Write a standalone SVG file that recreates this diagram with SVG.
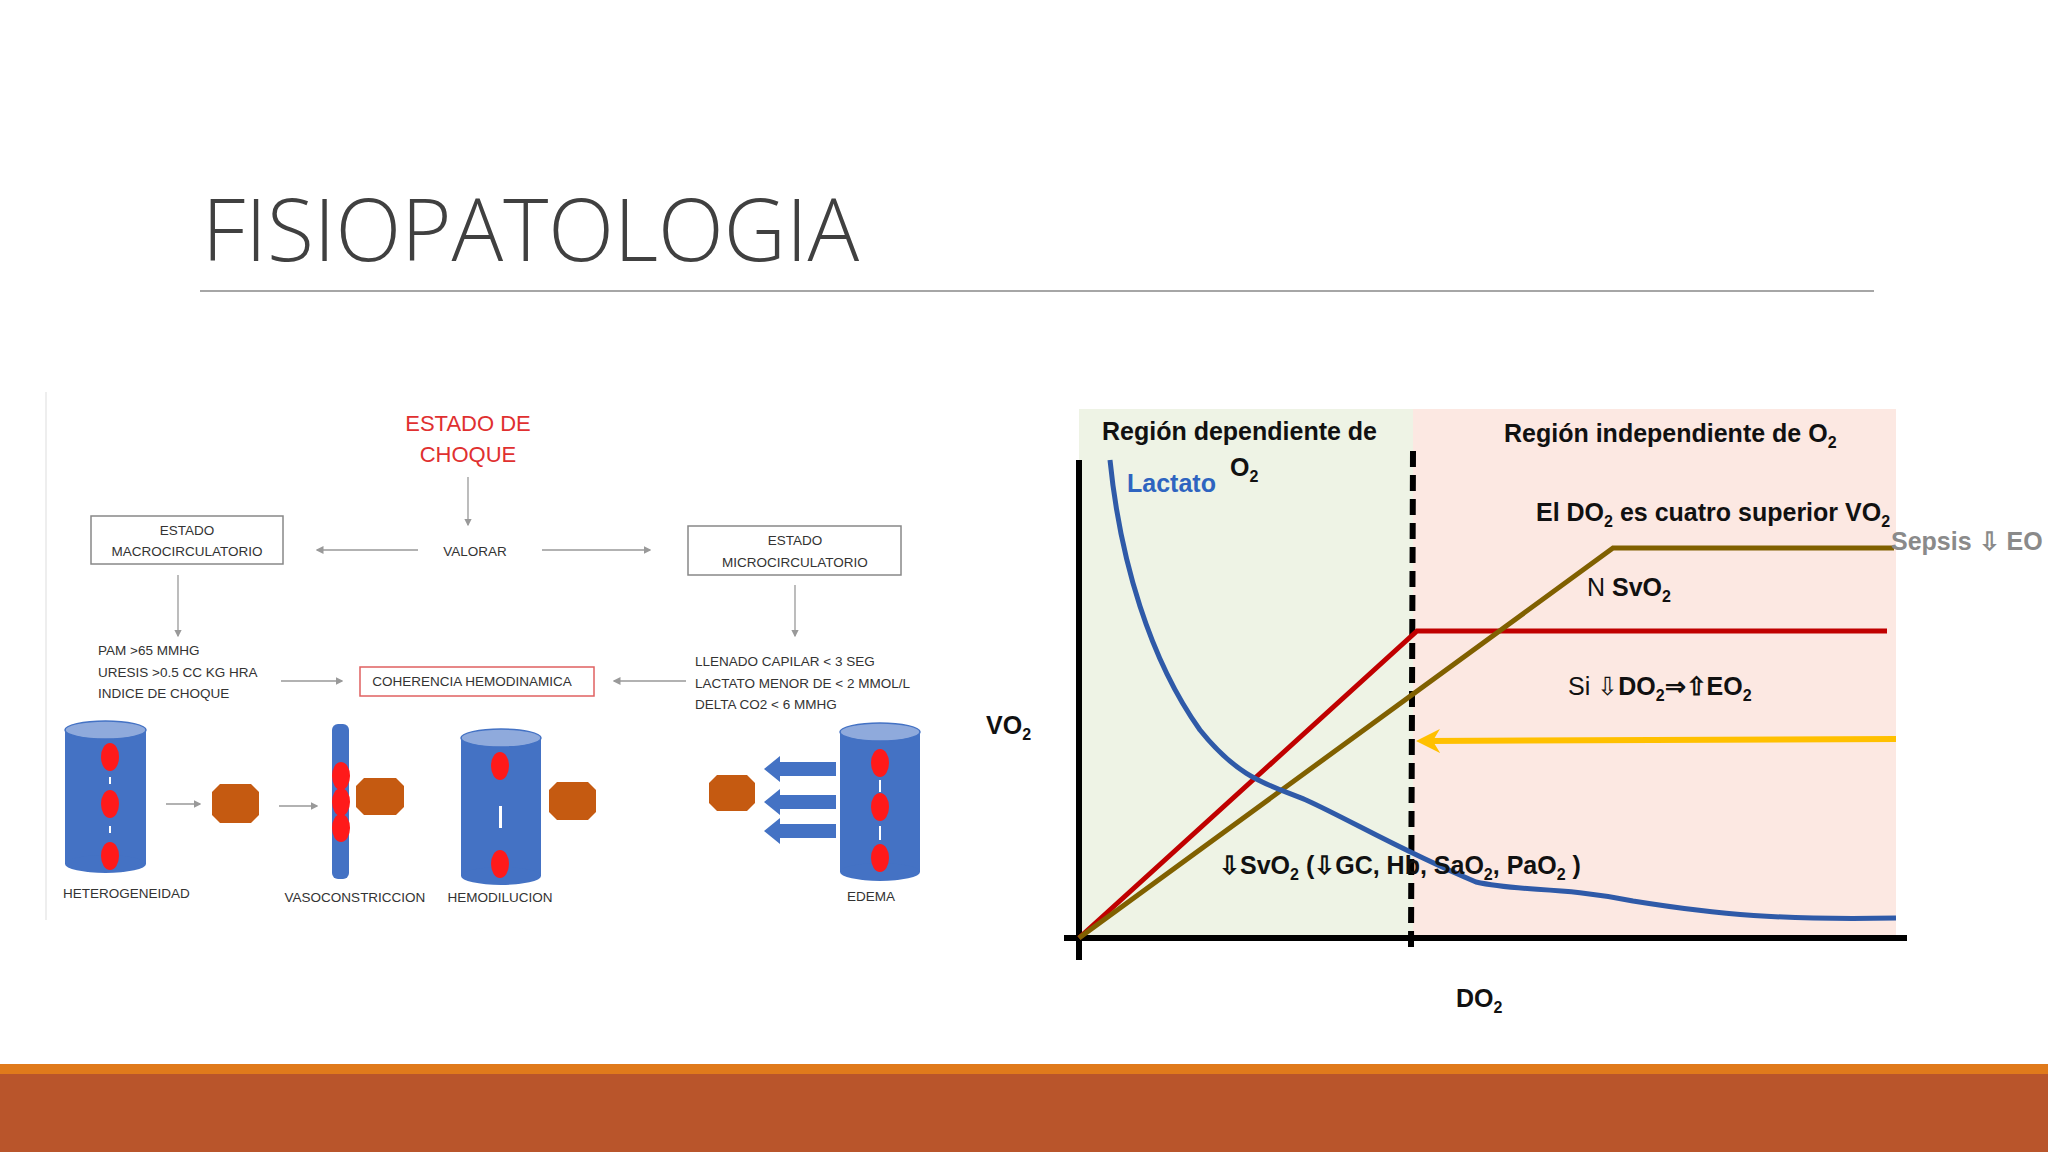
<svg xmlns="http://www.w3.org/2000/svg" width="2048" height="1152" viewBox="0 0 2048 1152">
<defs>
<style>
.t{font-family:"Liberation Sans Narrow","Liberation Sans",Arial,sans-serif;fill:#333}
.s{font-size:13.5px}
.b{font-family:"Liberation Sans",Arial,sans-serif;font-weight:bold;font-size:25px;fill:#111}
.ln{stroke:#999;stroke-width:1.3;fill:none}
.cyl{fill:#4472C4}
.top{fill:#8FAADC;stroke:#4472C4;stroke-width:1.5}
.rbc{fill:#FF1A1A}
.cell{fill:#C55A11}
</style>
<marker id="ar" markerWidth="6" markerHeight="6" refX="5" refY="3" orient="auto"><path d="M0,0 L6,3 L0,6z" fill="#999"/></marker>
<marker id="ay" markerWidth="4" markerHeight="4" refX="2" refY="2" orient="auto"><path d="M0,0 L4,2 L0,4 L1.2,2z" fill="#FFC000"/></marker>
</defs>
<rect width="2048" height="1152" fill="#fff"/>
<text x="202" y="261" font-family="'Open Sans','Liberation Sans',sans-serif" font-weight="300" font-size="86" fill="#404040">FISIOPATOLOGIA</text>
<line x1="200" y1="291" x2="1874" y2="291" stroke="#a6a6a6" stroke-width="2"/>
<rect x="0" y="1064" width="2048" height="10" fill="#E07A1B"/>
<rect x="0" y="1074" width="2048" height="78" fill="#B9552B"/>

<!-- left diagram -->
<line x1="46" y1="392" x2="46" y2="920" stroke="#eee" stroke-width="2"/>
<g id="choque"><text class="t" x="468" y="431" text-anchor="middle" font-size="22" style="fill:#E03030">ESTADO DE</text><text class="t" x="468" y="462" text-anchor="middle" font-size="22" style="fill:#E03030">CHOQUE</text></g>
<g id="macro"><rect x="91" y="516" width="192" height="48" fill="#fff" stroke="#888" stroke-width="1.5"/><text class="t s" x="187" y="535" text-anchor="middle">ESTADO</text><text class="t s" x="187" y="556" text-anchor="middle">MACROCIRCULATORIO</text></g>
<g id="valorar"><text class="t s" x="475" y="556" text-anchor="middle">VALORAR</text></g>
<g id="micro"><rect x="688" y="526" width="213" height="49" fill="#fff" stroke="#888" stroke-width="1.5"/><text class="t s" x="795" y="545" text-anchor="middle">ESTADO</text><text class="t s" x="795" y="567" text-anchor="middle">MICROCIRCULATORIO</text></g>
<g id="pam"><text class="t s" x="98" y="655">PAM &gt;65 MMHG</text><text class="t s" x="98" y="677">URESIS &gt;0.5 CC KG HRA</text><text class="t s" x="98" y="698">INDICE DE CHOQUE</text></g>
<g id="coherencia"><rect x="360" y="667" width="234" height="29" fill="#fff" stroke="#E06060" stroke-width="1.5"/><text class="t s" x="472" y="686" text-anchor="middle">COHERENCIA HEMODINAMICA</text></g>
<g id="llenado"><text class="t s" x="695" y="666">LLENADO CAPILAR &lt; 3 SEG</text><text class="t s" x="695" y="688">LACTATO MENOR DE &lt; 2 MMOL/L</text><text class="t s" x="695" y="709">DELTA CO2 &lt; 6 MMHG</text></g>

<g id="connectors">
<line class="ln" x1="468" y1="477" x2="468" y2="525" marker-end="url(#ar)"/>
<line class="ln" x1="418" y1="550" x2="317" y2="550" marker-end="url(#ar)"/>
<line class="ln" x1="542" y1="550" x2="650" y2="550" marker-end="url(#ar)"/>
<line class="ln" x1="178" y1="575" x2="178" y2="636" marker-end="url(#ar)"/>
<line class="ln" x1="795" y1="585" x2="795" y2="636" marker-end="url(#ar)"/>
<line class="ln" x1="281" y1="681" x2="342" y2="681" marker-end="url(#ar)"/>
<line class="ln" x1="686" y1="681" x2="614" y2="681" marker-end="url(#ar)"/>
<line class="ln" x1="166" y1="804" x2="200" y2="804" marker-end="url(#ar)"/>
<line class="ln" x1="279" y1="806" x2="317" y2="806" marker-end="url(#ar)"/>
</g>

<g id="heterogeneidad">
<rect class="cyl" x="65" y="730" width="81" height="134"/><ellipse class="cyl" cx="105.5" cy="864" rx="40.5" ry="9"/><ellipse class="top" cx="105.5" cy="730" rx="40.5" ry="9"/>
<ellipse class="rbc" cx="110" cy="757" rx="9" ry="14"/><ellipse class="rbc" cx="110" cy="804" rx="9" ry="14"/><ellipse class="rbc" cx="110" cy="856" rx="9" ry="14"/>
<rect x="109" y="777" width="2" height="7" fill="#fff"/><rect x="109" y="826" width="2" height="7" fill="#fff"/>
<text class="t s" x="63" y="898">HETEROGENEIDAD</text></g>
<g id="cell1"><polygon class="cell" points="220,784 251,784 259,792 259,815 251,823 220,823 212,815 212,792"/></g>
<g id="vasoconstriccion">
<rect class="cyl" x="332" y="724" width="17" height="155" rx="6"/>
<ellipse class="rbc" cx="341" cy="776" rx="9" ry="14"/><ellipse class="rbc" cx="341" cy="802" rx="9" ry="14"/><ellipse class="rbc" cx="341" cy="828" rx="9" ry="14"/>
<text class="t s" x="355" y="902" text-anchor="middle">VASOCONSTRICCION</text></g>
<g id="cell2"><polygon class="cell" points="364,778 396,778 404,786 404,807 396,815 364,815 356,807 356,786"/></g>
<g id="hemodilucion">
<rect class="cyl" x="461" y="738" width="80" height="138"/><ellipse class="cyl" cx="501" cy="876" rx="40" ry="9"/><ellipse class="top" cx="501" cy="738" rx="40" ry="9"/>
<ellipse class="rbc" cx="500" cy="766" rx="9" ry="14"/><ellipse class="rbc" cx="500" cy="864" rx="9" ry="14"/>
<rect x="499" y="806" width="3" height="22" fill="#fff"/>
<text class="t s" x="500" y="902" text-anchor="middle">HEMODILUCION</text></g>
<g id="cell3"><polygon class="cell" points="557,782 588,782 596,790 596,812 588,820 557,820 549,812 549,790"/></g>
<g id="cell4"><polygon class="cell" points="717,775 747,775 755,783 755,803 747,811 717,811 709,803 709,783"/></g>
<g id="edema">
<rect class="cyl" x="840" y="732" width="80" height="140"/><ellipse class="cyl" cx="880" cy="872" rx="40" ry="9"/><ellipse class="top" cx="880" cy="732" rx="40" ry="9"/>
<ellipse class="rbc" cx="880" cy="763" rx="9" ry="14"/><ellipse class="rbc" cx="880" cy="807" rx="9" ry="14"/><ellipse class="rbc" cx="880" cy="858" rx="9" ry="14"/>
<rect x="879" y="780" width="2" height="12" fill="#fff"/><rect x="879" y="826" width="2" height="14" fill="#fff"/>
<polygon fill="#4472C4" points="836,762 780,762 780,756 764,769 780,782 780,776 836,776"/>
<polygon fill="#4472C4" points="836,795 780,795 780,789 764,802 780,815 780,809 836,809"/>
<polygon fill="#4472C4" points="836,824 780,824 780,818 764,831 780,844 780,838 836,838"/>
<text class="t s" x="871" y="901" text-anchor="middle">EDEMA</text></g>

<!-- right chart -->
<g id="chart">
<rect x="1079" y="409" width="334" height="529" fill="#EEF3E5"/>
<rect x="1413" y="409" width="483" height="529" fill="#FCE8E2"/>
<line x1="1079" y1="460" x2="1079" y2="960" stroke="#000" stroke-width="6"/>
<line x1="1064" y1="938" x2="1907" y2="938" stroke="#000" stroke-width="6"/>
<line x1="1413" y1="451" x2="1411" y2="947" stroke="#000" stroke-width="6" stroke-dasharray="16,8"/>
<polyline points="1079,938 1417,631 1887,631" fill="none" stroke="#C00000" stroke-width="5"/>
<polyline points="1079,938 1613,548 1894,548" fill="none" stroke="#806000" stroke-width="5"/>
<line x1="1896" y1="739" x2="1428" y2="741" stroke="#FFC000" stroke-width="6" marker-end="url(#ay)"/>
<path d="M1110,460 C1120,560 1150,660 1200,730 C1240,780 1270,785 1306,800 C1350,820 1400,850 1476,882 C1520,892 1560,886 1633,901 C1720,915 1780,920 1896,918" fill="none" stroke="#2F5AA8" stroke-width="5"/>
<text class="b" x="1102" y="440">Región dependiente de</text>
<text class="b" x="1230" y="476">O<tspan font-size="16" dy="6">2</tspan></text>
<text class="b" x="1127" y="492" style="fill:#2E64C0">Lactato</text>
<text class="b" x="1504" y="442">Región independiente de O<tspan font-size="16" dy="6">2</tspan></text>
<text class="b" x="1536" y="521">El DO<tspan font-size="16" dy="6">2</tspan><tspan dy="-6"> es cuatro superior VO</tspan><tspan font-size="16" dy="6">2</tspan></text>
<text class="b" x="1891" y="550" style="fill:#8a8a8a">Sepsis ⇩ EO</text>
<text class="b" x="1587" y="596"><tspan font-weight="normal">N</tspan> SvO<tspan font-size="16" dy="6">2</tspan></text>
<text class="b" x="1568" y="695"><tspan font-weight="normal">Si ⇩</tspan>DO<tspan font-size="16" dy="6">2</tspan><tspan dy="-6">⇒⇧EO</tspan><tspan font-size="16" dy="6">2</tspan></text>
<text class="b" x="986" y="734">VO<tspan font-size="16" dy="6">2</tspan></text>
<text class="b" x="1219" y="874">⇩SvO<tspan font-size="16" dy="6">2</tspan><tspan dy="-6"> (⇩GC, Hb, SaO</tspan><tspan font-size="16" dy="6">2</tspan><tspan dy="-6">, PaO</tspan><tspan font-size="16" dy="6">2</tspan><tspan dy="-6"> )</tspan></text>
<text class="b" x="1456" y="1007">DO<tspan font-size="16" dy="6">2</tspan></text>
</g>
</svg>
